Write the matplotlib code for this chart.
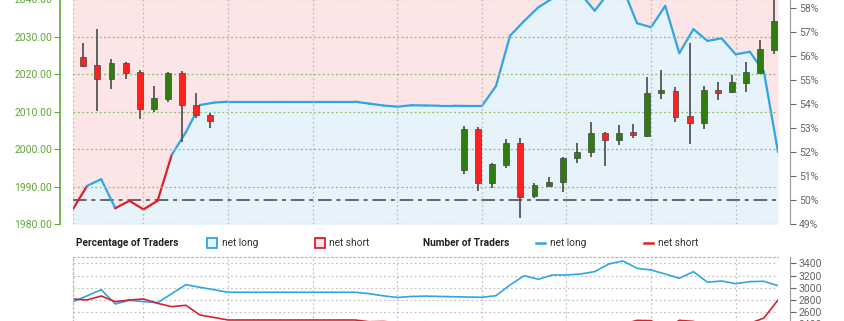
import numpy as np
import matplotlib
matplotlib.use("Agg")
import matplotlib.pyplot as plt
from matplotlib.collections import LineCollection
from matplotlib.patches import Rectangle
from matplotlib.lines import Line2D

plt.rcParams['font.family'] = ['Roboto', 'DejaVu Sans']

# -------------------------------------------------------- #
#                        data                               #
# -------------------------------------------------------- #
# candles (slot index, open, high, low, close)
slots = [0, 1, 2, 3, 4, 5, 6, 7, 8, 9,
         27, 28, 29, 30, 31, 32, 33, 34, 35, 36, 37, 38,
         39, 40, 41, 42, 43, 44, 45, 46, 47, 48, 49]
opens = [2024.5, 2022.4, 2018.7, 2023.1, 2020.6, 2010.7, 2013.5, 2020.4, 2011.8, 2009.2,
         1994.5, 2005.5, 1990.9, 1995.8, 2001.8, 1987.5, 1990.3, 1991.2, 1997.6, 1999.2, 2004.3, 2002.5,
         2004.5, 2003.6, 2015.0, 2015.6, 2008.9, 2006.9, 2015.9, 2015.2, 2017.8, 2020.4, 2026.5]
highs = [2028.4, 2032.0, 2024.0, 2023.2, 2021.1, 2016.9, 2020.7, 2021.0, 2014.9, 2009.6,
         2006.3, 2006.0, 1996.3, 2002.7, 2003.0, 1990.9, 1992.7, 1998.0, 2001.8, 2007.4, 2004.6, 2006.5,
         2006.7, 2019.4, 2021.1, 2016.5, 2028.3, 2016.9, 2018.0, 2019.8, 2023.3, 2029.1, 2042.0]
lows = [2021.9, 2010.3, 2016.0, 2018.7, 2008.0, 2010.0, 2012.6, 2002.0, 2008.3, 2005.6,
        1993.4, 1989.0, 1989.6, 1994.9, 1981.6, 1987.1, 1990.0, 1988.7, 1996.4, 1997.9, 1995.5, 2001.1,
        2002.9, 2003.4, 2013.3, 2007.4, 2001.3, 2005.3, 2013.1, 2014.9, 2015.2, 2020.1, 2025.4]
closes = [2022.2, 2018.7, 2023.1, 2020.4, 2010.8, 2013.8, 2020.4, 2011.8, 2009.1, 2007.6,
          2005.4, 1990.9, 1996.0, 2001.8, 1987.4, 1990.4, 1991.3, 1997.8, 1999.3, 2004.4, 2002.5, 2004.4,
          2003.9, 2014.9, 2015.7, 2008.7, 2006.9, 2015.8, 2015.1, 2017.9, 2020.6, 2026.7, 2034.3]

# percentage of traders net long (one sample per slot, 51 samples)
pct_long = [49.64, 50.60, 50.88, 49.67, 49.98, 49.62, 49.98, 51.89, 52.83, 53.97,
            54.07, 54.11, 54.11, 54.11, 54.11, 54.11, 54.11, 54.11, 54.11, 54.11,
            54.11, 54.03, 53.95, 53.90, 53.96, 53.95, 53.94, 53.94, 53.93, 53.93,
            54.76, 56.86, 57.47, 58.04, 58.41, 58.70, 58.60, 57.90, 58.65, 58.85,
            57.38, 57.21, 58.10, 56.13, 57.13, 56.64, 56.75, 56.08, 56.19, 55.36,
            52.01]

# number of traders
n_long = [2774, 2870, 2970, 2736, 2797, 2774, 2757, 2905, 3052, 3010,
          2970, 2928, 2928, 2928, 2928, 2928, 2928, 2928, 2928, 2928,
          2928, 2905, 2870, 2843, 2859, 2865, 2860, 2855, 2850, 2846,
          2872, 3048, 3200, 3141, 3211, 3211, 3228, 3266, 3392, 3441,
          3321, 3293, 3228, 3157, 3266, 3092, 3113, 3069, 3102, 3108,
          3036]
n_short = [2818, 2802, 2867, 2774, 2802, 2818, 2747, 2692, 2715, 2556,
           2515, 2474, 2474, 2474, 2474, 2474, 2474, 2474, 2474, 2474,
           2474, 2445, 2450, 2431, 2439, 2444, 2440, 2436, 2432, 2431,
           2373, 2313, 2368, 2271, 2286, 2259, 2281, 2375, 2391, 2406,
           2467, 2463, 2328, 2468, 2451, 2367, 2372, 2403, 2419, 2506,
           2801]

price_ticks = [1980, 1990, 2000, 2010, 2020, 2030, 2040]
pct_ticks = [49, 50, 51, 52, 53, 54, 55, 56, 57, 58]
count_ticks = [2200, 2400, 2600, 2800, 3000, 3200, 3400]

# -------------------------------------------------------- #
#                        styles                             #
# -------------------------------------------------------- #
GREEN_AX = '#5fa83a'
GRAY_AX = '#8a8a8a'
BLUE = '#2fa5e6'
RED = '#dd1f2b'
FILL_BLUE = '#e6f3fb'
FILL_PINK = '#fbe5e6'
CANDLE_UP = '#2e7d0e'
CANDLE_DN = '#ff2020'
W, H = 845, 321
candle_off = 0.73   # candles sit 0.73 slot right of the sentiment samples


def fx(px):
    return px / W


def fy(py):
    return 1 - py / H


fig = plt.figure(figsize=(8.45, 3.21), dpi=100)

# ---------------- main panel ---------------- #
ax = fig.add_axes([fx(73), fy(224.3), 705 / W, 225 / H])
ax2 = ax.twinx()
ax.set_zorder(ax2.get_zorder() + 1)
ax.patch.set_visible(False)

xs = np.arange(len(pct_long))
pct = np.array(pct_long)
ptop = 49 + 225 / 24
ax2.fill_between(xs, 49, pct, color=FILL_BLUE, lw=0)
ax2.fill_between(xs, pct, 60, color=FILL_PINK, lw=0)
ax2.axhline(50, color='#666666', lw=1.4, ls=(0, (7, 2.5, 2, 2.5)))

segs = [[(xs[i], pct[i]), (xs[i + 1], pct[i + 1])] for i in range(len(xs) - 1)]
seg_cols = [RED if pct[i] < 50 else BLUE for i in range(len(xs) - 1)]
ax2.add_collection(LineCollection(segs, colors=seg_cols, linewidths=1.6, capstyle='round'))

ax2.set_ylim(49, ptop)
ax2.set_yticks(pct_ticks)
ax2.set_yticklabels(['%d%%' % p for p in pct_ticks])
ax2.tick_params(axis='y', colors='#666666', labelsize=7.5, length=4, width=0.8, pad=2)
for s in ['top', 'bottom', 'left']:
    ax2.spines[s].set_visible(False)
ax2.spines['right'].set_position(('outward', 9))
ax2.spines['right'].set_color('#999999')

# candles
cx = np.array(slots) + candle_off
o = np.array(opens)
c = np.array(closes)
cols = [CANDLE_UP if c[i] >= o[i] else CANDLE_DN for i in range(len(o))]
ax.vlines(cx, lows, highs, color='#555555', lw=1.3, zorder=3)
ax.bar(cx, np.abs(c - o), bottom=np.minimum(o, c), width=0.42, color=cols,
       edgecolor='#444444', lw=0.5, zorder=4)

ax.set_ylim(1980, 2040)
ax.set_xlim(0, 50)
ax.set_yticks(price_ticks)
ax.set_yticklabels(['%.2f' % p for p in price_ticks])
vgrid = [0, 5, 11, 17, 23, 29, 35, 41, 47]
ax.set_xticks(vgrid)
ax.tick_params(axis='x', length=0, labelbottom=False)
ax.tick_params(axis='y', colors=GREEN_AX, labelsize=7.5, length=4, width=0.8, pad=2)
ax.grid(axis='y', color='#8cc063', lw=0.9, ls=(0, (1.5, 2)))
ax.grid(axis='x', color='#bdbdbd', lw=0.9, ls=(0, (1.5, 2)))
ax.set_axisbelow(True)
for s in ['top', 'bottom', 'right']:
    ax.spines[s].set_visible(False)
ax.spines['left'].set_position(('outward', 9))
ax.spines['left'].set_color(GREEN_AX)
ax.spines['left'].set_linewidth(1.2)

# ---------------- legend row ---------------- #
ly = fy(242.5)
fig.text(fx(76), ly, 'Percentage of Traders', fontsize=7.3, fontweight='bold',
         color='#222222', va='center')
fig.add_artist(Rectangle((fx(207.5), fy(247.5)), 9.5 / W, 9.5 / H, transform=fig.transFigure,
                         facecolor=FILL_BLUE, edgecolor=BLUE, lw=1.3))
fig.text(fx(222), ly, 'net long', fontsize=7.3, color='#333333', va='center')
fig.add_artist(Rectangle((fx(315.5), fy(247.5)), 9.5 / W, 9.5 / H, transform=fig.transFigure,
                         facecolor=FILL_PINK, edgecolor=RED, lw=1.3))
fig.text(fx(329.5), ly, 'net short', fontsize=7.3, color='#333333', va='center')

fig.text(fx(423.5), ly, 'Number of Traders', fontsize=7.3, fontweight='bold',
         color='#222222', va='center')
fig.add_artist(Line2D([fx(536), fx(545)], [ly, ly], transform=fig.transFigure, color=BLUE, lw=1.8))
fig.text(fx(550), ly, 'net long', fontsize=7.3, color='#333333', va='center')
fig.add_artist(Line2D([fx(644), fx(653)], [ly, ly], transform=fig.transFigure, color=RED, lw=1.8))
fig.text(fx(658.5), ly, 'net short', fontsize=7.3, color='#333333', va='center')

# ---------------- bottom panel ---------------- #
ax3 = fig.add_axes([fx(73), fy(345), 705 / W, (345 - 256.7) / H])
ax3.plot(xs, n_long, color=BLUE, lw=1.2)
ax3.plot(xs, n_short, color=RED, lw=1.2)
ax3.set_xlim(0, 50)
ax3.set_ylim(2064, 3511)
ax3.yaxis.tick_right()
ax3.set_yticks(count_ticks)
ax3.set_xticks(vgrid)
ax3.tick_params(axis='x', length=0, labelbottom=False)
ax3.tick_params(axis='y', colors='#666666', labelsize=7.5, length=4, width=0.8, pad=2)
ax3.grid(color='#c4c4c4', lw=0.9, ls=(0, (1.5, 2)))
ax3.spines['bottom'].set_visible(False)
for s in ['top', 'left']:
    ax3.spines[s].set_color('#bdbdbd')
    ax3.spines[s].set_linestyle((0, (1.5, 2)))
    ax3.spines[s].set_linewidth(0.9)
ax3.spines['right'].set_position(('outward', 9))
ax3.spines['right'].set_color('#999999')

fig.savefig('out.png', dpi=100)
